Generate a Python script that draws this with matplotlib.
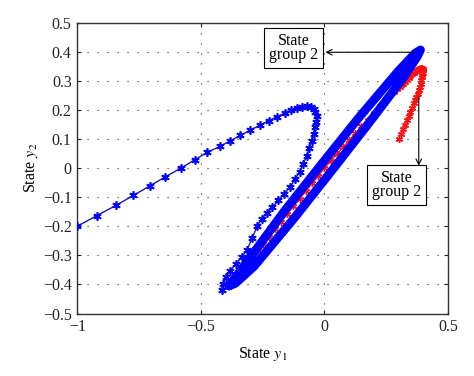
import numpy as np
import matplotlib
matplotlib.use("Agg")
import matplotlib.pyplot as plt

# --- data ---
# blue trajectory: approach from (-1, -0.2), around the hook, down to the lower tip
blue_x = [-1.0, -0.92, -0.843, -0.773, -0.706, -0.643, -0.58, -0.524, -0.473, -0.422,
          -0.38, -0.34, -0.30, -0.26, -0.225, -0.19, -0.16, -0.135, -0.11, -0.09,
          -0.072, -0.056, -0.044, -0.036, -0.031, -0.032, -0.037, -0.044, -0.052, -0.062,
          -0.072, -0.085, -0.1, -0.118, -0.139, -0.162, -0.186, -0.21, -0.233, -0.253,
          -0.272, -0.292, -0.314, -0.335, -0.358, -0.381, -0.398, -0.41, -0.415]
blue_y = [-0.2, -0.163, -0.128, -0.094, -0.061, -0.03, 0.0, 0.029, 0.054, 0.075,
          0.094, 0.112, 0.13, 0.148, 0.163, 0.177, 0.189, 0.198, 0.206, 0.211,
          0.213, 0.21, 0.203, 0.193, 0.178, 0.16, 0.14, 0.118, 0.094, 0.068,
          0.04, 0.015, -0.012, -0.038, -0.065, -0.088, -0.111, -0.135, -0.155, -0.174,
          -0.2, -0.24, -0.283, -0.305, -0.33, -0.352, -0.375, -0.398, -0.42]

# blue limit cycle (thin ellipse along the diagonal)
cycle_x = [-0.385, -0.360, -0.284, -0.124, 0.027, 0.176, 0.321, 0.376, 0.389,
           0.368, 0.300, 0.142, -0.010, -0.160, -0.306, -0.368, -0.385]
cycle_y = [-0.405, -0.396, -0.337, -0.174, -0.012, 0.150, 0.312, 0.383, 0.406,
           0.395, 0.334, 0.176, 0.015, -0.146, -0.314, -0.385, -0.405]

# red trajectory: starts near (0.30, 0.10), hooks over and runs down the band centre
red_x = [0.301, 0.31, 0.318, 0.326, 0.334, 0.341, 0.348, 0.355, 0.361, 0.367,
         0.372, 0.377, 0.382, 0.386, 0.39, 0.393, 0.395, 0.397, 0.399, 0.4,
         0.398, 0.395, 0.391, 0.387, 0.382, 0.376, 0.369, 0.361, 0.355, 0.348,
         0.341, 0.334, 0.327, 0.32, 0.312, 0.305, 0.295, 0.28, 0.265, 0.25,
         0.225, 0.2, 0.175, 0.15, 0.125, 0.1, 0.075, 0.05, 0.025, 0.0,
         -0.025, -0.05, -0.075, -0.1, -0.125, -0.15, -0.175, -0.2, -0.225, -0.25, -0.27]
red_y = [0.101, 0.117, 0.133, 0.149, 0.164, 0.179, 0.193, 0.208, 0.222, 0.234,
         0.245, 0.256, 0.267, 0.279, 0.29, 0.302, 0.313, 0.321, 0.328, 0.336,
         0.341, 0.343, 0.344, 0.343, 0.341, 0.337, 0.333, 0.327, 0.322, 0.316,
         0.309, 0.302, 0.296, 0.29, 0.285, 0.279, 0.272, 0.262, 0.25, 0.237,
         0.213, 0.19, 0.166, 0.143, 0.119, 0.095, 0.071, 0.048, 0.024, 0.0,
         -0.027, -0.053, -0.079, -0.105, -0.131, -0.158, -0.184, -0.21, -0.236, -0.262, -0.283]

x_ticks = [-1, -0.5, 0, 0.5]
x_ticklabels = ["\u22121", "\u22120.5", "0", "0.5"]
y_ticks = [-0.5, -0.4, -0.3, -0.2, -0.1, 0, 0.1, 0.2, 0.3, 0.4, 0.5]
y_ticklabels = ["\u22120.5", "\u22120.4", "\u22120.3", "\u22120.2", "\u22120.1", "0",
                "0.1", "0.2", "0.3", "0.4", "0.5"]

# --- figure ---
plt.rcParams['font.family'] = ['Liberation Serif', 'DejaVu Serif']
plt.rcParams['mathtext.fontset'] = 'stix'

fig = plt.figure(figsize=(4.74, 3.76), dpi=100)
ax = fig.add_axes([0.163, 0.166, 0.782, 0.774])

asterisk = (6, 2, 0)  # MATLAB-style '*'

# red under the blue band, so it only shows through the hollow centre
ax.plot(red_x, red_y, '-', color='#ff1010', lw=1.0, marker=asterisk, ms=5,
        mew=1.0, mfc='#ff1010', mec='#ff1010', zorder=3)
ax.plot(cycle_x, cycle_y, '-', color='#0000ff', lw=6.3, solid_joinstyle='round',
        solid_capstyle='round', zorder=4)
ax.plot(blue_x, blue_y, '-', color='#1818b0', lw=1.0, marker=asterisk, ms=6,
        mew=1.2, mfc='#0000ff', mec='#0000ff', zorder=5)

# annotations
box = dict(boxstyle='square,pad=0.32', fc='white', ec='black', lw=0.8)
arrow = dict(arrowstyle='->', color='black', lw=0.8, shrinkA=0, shrinkB=0)
ax.text(-0.125, 0.413, "State\ngroup 2", ha='center', va='center', fontsize=11.5,
        linespacing=0.8, bbox=box, zorder=6)
ax.annotate("", xy=(0.004, 0.398), xytext=(0.361, 0.398), arrowprops=arrow, zorder=6)
ax.text(0.292, -0.059, "State\ngroup 2", ha='center', va='center', fontsize=11.5,
        linespacing=0.8, bbox=box, zorder=6)
ax.annotate("", xy=(0.382, 0.008), xytext=(0.382, 0.244), arrowprops=arrow, zorder=6)

ax.set_xlim(-1, 0.5)
ax.set_ylim(-0.5, 0.5)
ax.set_xticks(x_ticks)
ax.set_xticklabels(x_ticklabels)
ax.set_yticks(y_ticks)
ax.set_yticklabels(y_ticklabels)
ax.tick_params(direction='in', length=3, width=0.8, top=True, right=True,
               labelsize=11.5, colors='#222222', pad=4)
ax.grid(True, color='#333333', linestyle=(0, (1, 8)), lw=0.8)
for s in ax.spines.values():
    s.set_color('#333333')
    s.set_linewidth(1.0)

ax.set_xlabel("State $y_1$", fontsize=11.5, labelpad=7)
ax.set_ylabel("State $y_2$", fontsize=11.5, labelpad=2)

fig.savefig("out.png", dpi=100)
